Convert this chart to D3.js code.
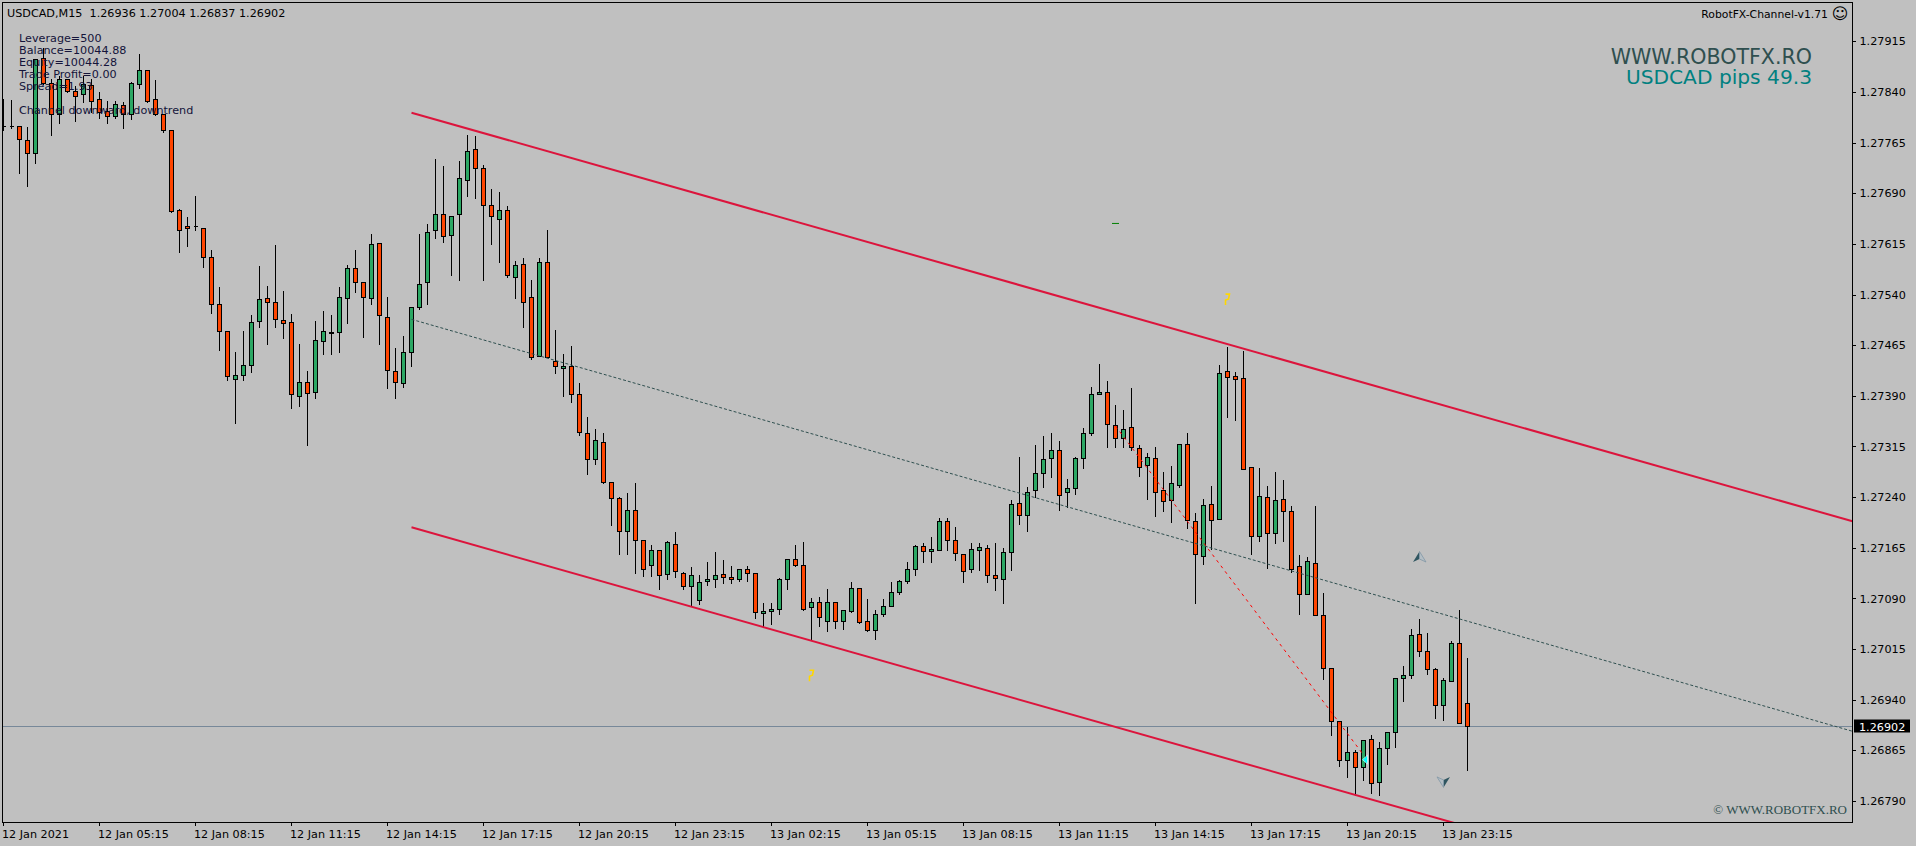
<!DOCTYPE html>
<html>
<head>
  <meta charset="utf-8">
  <style>
    html, body { margin: 0; padding: 0; background: #c0c0c0; overflow: hidden; }
    svg { display: block; }
    text { font-family: "DejaVu Sans", sans-serif; font-size: 11.2px; fill: #000; white-space: pre; }
    .axis text { font-size: 11.2px; fill: #000; }
    .axis path, .axis line { stroke: #000; shape-rendering: crispEdges; }
    .info { fill: #14143a; }
  </style>
</head>
<body>
<script src="https://cdnjs.cloudflare.com/ajax/libs/d3/7.8.5/d3.min.js"></script>
<script>
  // USDCAD M15 candles
  var opens = [
    1.27790,1.27790,1.27791,1.27769,1.27751,1.27891,1.27854,1.27808,1.27860,1.27842,
    1.27837,1.27851,1.27830,1.27813,1.27805,1.27821,1.27808,1.27852,1.27873,1.27830,
    1.27808,1.27784,1.27666,1.27642,1.27642,1.27640,1.27597,1.27526,1.27487,1.27415,
    1.27421,1.27436,1.27501,1.27535,1.27529,1.27503,1.27500,1.27390,1.27411,1.27396,
    1.27472,1.27485,1.27485,1.27535,1.27580,1.27560,1.27535,1.27617,1.27507,1.27427,
    1.27409,1.27455,1.27523,1.27560,1.27636,1.27660,1.27629,1.27660,1.27710,1.27756,
    1.27728,1.27674,1.27652,1.27666,1.27566,1.27586,1.27537,1.27449,1.27589,1.27443,
    1.27432,1.27435,1.27393,1.27335,1.27297,1.27322,1.27263,1.27239,1.27190,1.27221,
    1.27177,1.27140,1.27162,1.27127,1.27171,1.27129,1.27109,1.27088,1.27116,1.27119,
    1.27127,1.27122,1.27119,1.27134,1.27129,1.27069,1.27072,1.27075,1.27119,1.27149,
    1.27140,1.27078,1.27085,1.27058,1.27085,1.27057,1.27072,1.27106,1.27058,1.27044,
    1.27068,1.27080,1.27100,1.27116,1.27134,1.27168,1.27161,1.27162,1.27205,1.27177,
    1.27156,1.27135,1.27162,1.27165,1.27125,1.27119,1.27159,1.27232,1.27214,1.27252,
    1.27276,1.27298,1.27310,1.27248,1.27254,1.27298,1.27335,1.27393,1.27396,1.27347,
    1.27328,1.27344,1.27313,1.27288,1.27298,1.27251,1.27236,1.27258,1.27319,1.27205,
    1.27153,1.27230,1.27209,1.27427,1.27420,1.27417,1.27285,1.27183,1.27241,1.27187,
    1.27238,1.27220,1.27138,1.27097,1.27143,1.27066,1.26987,1.26909,1.26851,1.26864,
    1.26841,1.26882,1.26819,1.26869,1.26893,1.26973,1.26977,1.27038,1.27013,1.26986,
    1.26933,1.26968,1.27024,1.26936
  ];
  var highs = [
    1.27832,1.27830,1.27791,1.27790,1.27890,1.27907,1.27861,1.27866,1.27861,1.27851,
    1.27866,1.27862,1.27842,1.27829,1.27829,1.27827,1.27857,1.27898,1.27873,1.27860,
    1.27809,1.27786,1.27669,1.27657,1.27688,1.27640,1.27608,1.27553,1.27487,1.27457,
    1.27488,1.27512,1.27585,1.27555,1.27616,1.27548,1.27513,1.27469,1.27429,1.27503,
    1.27518,1.27512,1.27553,1.27586,1.27608,1.27560,1.27632,1.27617,1.27539,1.27463,
    1.27481,1.27524,1.27632,1.27647,1.27743,1.27733,1.27658,1.27740,1.27779,1.27777,
    1.27734,1.27698,1.27694,1.27673,1.27592,1.27596,1.27564,1.27596,1.27638,1.27490,
    1.27454,1.27466,1.27411,1.27361,1.27343,1.27337,1.27264,1.27242,1.27248,1.27263,
    1.27177,1.27171,1.27162,1.27177,1.27191,1.27132,1.27139,1.27127,1.27146,1.27161,
    1.27149,1.27140,1.27134,1.27140,1.27129,1.27085,1.27085,1.27122,1.27149,1.27171,
    1.27176,1.27093,1.27094,1.27106,1.27085,1.27075,1.27117,1.27106,1.27091,1.27075,
    1.27091,1.27117,1.27119,1.27146,1.27171,1.27174,1.27183,1.27211,1.27211,1.27198,
    1.27156,1.27174,1.27174,1.27171,1.27174,1.27167,1.27238,1.27302,1.27257,1.27319,
    1.27333,1.27337,1.27325,1.27269,1.27302,1.27344,1.27405,1.27439,1.27414,1.27378,
    1.27371,1.27404,1.27319,1.27308,1.27317,1.27279,1.27288,1.27319,1.27337,1.27218,
    1.27239,1.27259,1.27438,1.27465,1.27428,1.27459,1.27285,1.27285,1.27259,1.27279,
    1.27268,1.27229,1.27157,1.27154,1.27229,1.27100,1.26987,1.26909,1.26902,1.26868,
    1.26882,1.26890,1.26880,1.26893,1.26975,1.26992,1.27047,1.27062,1.27041,1.26989,
    1.26974,1.27029,1.27075,1.27004
  ];
  var lows = [
    1.27784,1.27788,1.27720,1.27702,1.27736,1.27853,1.27777,1.27795,1.27841,1.27798,
    1.27826,1.27811,1.27802,1.27795,1.27802,1.27788,1.27801,1.27846,1.27826,1.27807,
    1.27782,1.27663,1.27603,1.27612,1.27636,1.27581,1.27514,1.27458,1.27414,1.27350,
    1.27414,1.27426,1.27492,1.27468,1.27492,1.27477,1.27373,1.27375,1.27318,1.27387,
    1.27452,1.27453,1.27455,1.27499,1.27544,1.27478,1.27526,1.27468,1.27403,1.27387,
    1.27404,1.27435,1.27520,1.27526,1.27625,1.27619,1.27570,1.27563,1.27686,1.27683,
    1.27563,1.27615,1.27589,1.27566,1.27536,1.27492,1.27446,1.27449,1.27448,1.27424,
    1.27390,1.27381,1.27332,1.27275,1.27290,1.27261,1.27199,1.27156,1.27156,1.27129,
    1.27124,1.27124,1.27105,1.27119,1.27123,1.27104,1.27079,1.27082,1.27111,1.27108,
    1.27114,1.27114,1.27116,1.27116,1.27062,1.27049,1.27053,1.27068,1.27105,1.27138,
    1.27074,1.27029,1.27050,1.27043,1.27047,1.27046,1.27071,1.27054,1.27043,1.27031,
    1.27065,1.27079,1.27098,1.27114,1.27125,1.27145,1.27145,1.27162,1.27163,1.27148,
    1.27115,1.27130,1.27133,1.27115,1.27103,1.27084,1.27133,1.27201,1.27190,1.27241,
    1.27255,1.27270,1.27221,1.27226,1.27246,1.27284,1.27333,1.27393,1.27315,1.27315,
    1.27315,1.27310,1.27272,1.27238,1.27213,1.27220,1.27204,1.27256,1.27195,1.27084,
    1.27141,1.27164,1.27209,1.27360,1.27355,1.27282,1.27157,1.27176,1.27136,1.27173,
    1.27176,1.27130,1.27068,1.27097,1.27066,1.26972,1.26889,1.26843,1.26826,1.26799,
    1.26822,1.26803,1.26800,1.26846,1.26871,1.26939,1.26973,1.27006,1.26979,1.26914,
    1.26911,1.26968,1.26906,1.26837
  ];
  var closes = [
    1.27790,1.27790,1.27771,1.27751,1.27889,1.27854,1.27808,1.27860,1.27842,1.27835,
    1.27852,1.27828,1.27811,1.27805,1.27823,1.27808,1.27854,1.27873,1.27828,1.27808,
    1.27785,1.27665,1.27637,1.27640,1.27642,1.27597,1.27526,1.27486,1.27420,1.27421,
    1.27437,1.27500,1.27534,1.27529,1.27504,1.27498,1.27393,1.27411,1.27395,1.27473,
    1.27486,1.27484,1.27537,1.27580,1.27560,1.27537,1.27615,1.27510,1.27429,1.27411,
    1.27455,1.27523,1.27556,1.27634,1.27660,1.27627,1.27657,1.27713,1.27754,1.27728,
    1.27674,1.27657,1.27666,1.27569,1.27584,1.27529,1.27448,1.27589,1.27448,1.27435,
    1.27435,1.27393,1.27337,1.27297,1.27326,1.27263,1.27239,1.27190,1.27221,1.27177,
    1.27135,1.27162,1.27125,1.27174,1.27132,1.27109,1.27125,1.27115,1.27119,1.27125,
    1.27122,1.27119,1.27134,1.27129,1.27070,1.27072,1.27075,1.27119,1.27149,1.27140,
    1.27075,1.27085,1.27063,1.27085,1.27058,1.27073,1.27106,1.27056,1.27044,1.27067,
    1.27079,1.27100,1.27116,1.27134,1.27168,1.27161,1.27164,1.27206,1.27177,1.27158,
    1.27132,1.27164,1.27167,1.27125,1.27121,1.27159,1.27230,1.27214,1.27248,1.27276,
    1.27297,1.27310,1.27244,1.27254,1.27298,1.27335,1.27393,1.27396,1.27349,1.27329,
    1.27341,1.27315,1.27285,1.27300,1.27248,1.27235,1.27261,1.27319,1.27207,1.27156,
    1.27229,1.27207,1.27424,1.27418,1.27415,1.27282,1.27183,1.27242,1.27187,1.27236,
    1.27220,1.27134,1.27097,1.27146,1.27066,1.26987,1.26909,1.26851,1.26864,1.26841,
    1.26881,1.26817,1.26869,1.26893,1.26973,1.26977,1.27036,1.27013,1.26986,1.26933,
    1.26970,1.27024,1.26906,1.26902
  ];

  var priceTicks = [1.27915,1.27840,1.27765,1.27690,1.27615,1.27540,1.27465,1.27390,
                    1.27315,1.27240,1.27165,1.27090,1.27015,1.26940,1.26865,1.26790];
  var timeTickBars = [0,12,24,36,48,60,72,84,96,108,120,132,144,156,168,180];
  var timeTickLabels = ["12 Jan 2021","12 Jan 05:15","12 Jan 08:15","12 Jan 11:15",
                        "12 Jan 14:15","12 Jan 17:15","12 Jan 20:15","12 Jan 23:15",
                        "13 Jan 02:15","13 Jan 05:15","13 Jan 08:15","13 Jan 11:15",
                        "13 Jan 14:15","13 Jan 17:15","13 Jan 20:15","13 Jan 23:15"];
  var lastPrice = 1.26902;

  // trend lines as [bar, price]
  var channelTop = [[51, 1.27810], [231.125, 1.27205]];
  var channelBottom = [[51, 1.27196], [231.125, 1.26591]];
  var channelMiddle = [[51, 1.27504], [231.125, 1.26894]];
  var zigzag = [[139, 1.27346], [170, 1.26859]];

  var infoLines = ["Leverage=500","Balance=10044.88","Equity=10044.28","Trade Profit=0.00","Spread=1.93","","Channel downward, downtrend"];

  var width = 1916, height = 846;
  var margin = {top: 2, right: 63, bottom: 23, left: 2};

  var x = d3.scaleLinear().domain([0, 183]).range([3.5, 1467.5]);
  var y = d3.scaleLinear().domain([1.26790, 1.27915]).range([801.5, 41.8]);

  function py(v) { return Math.round(y(v)) + 0.5; }

  var svg = d3.select("body").append("svg")
      .attr("width", width)
      .attr("height", height);

  svg.append("rect")
      .attr("width", width)
      .attr("height", height)
      .attr("fill", "#c0c0c0");

  svg.append("clipPath").attr("id", "plot")
    .append("rect")
      .attr("x", margin.left)
      .attr("y", margin.top)
      .attr("width", width - margin.left - margin.right)
      .attr("height", height - margin.top - margin.bottom);

  var plot = svg.append("g").attr("clip-path", "url(#plot)");

  // last price line sits behind the candles
  plot.append("line")
      .attr("x1", margin.left)
      .attr("x2", width - margin.right)
      .attr("y1", py(lastPrice))
      .attr("y2", py(lastPrice))
      .attr("stroke", "#778899")
      .attr("shape-rendering", "crispEdges");

  var bars = d3.range(opens.length);

  plot.selectAll(".wick")
      .data(bars)
    .enter().append("line")
      .attr("class", "wick")
      .attr("x1", function(i) { return x(i); })
      .attr("x2", function(i) { return x(i); })
      .attr("y1", function(i) { return py(highs[i]); })
      .attr("y2", function(i) { return py(lows[i]) + 0.5; })
      .attr("stroke", "#000")
      .attr("shape-rendering", "crispEdges");

  plot.selectAll(".body")
      .data(bars)
    .enter().append("path")
      .attr("class", "body")
      .attr("d", function(i) {
        var top = py(Math.max(opens[i], closes[i]));
        var bot = py(Math.min(opens[i], closes[i]));
        return "M" + (x(i) - 2) + "," + top + "H" + (x(i) + 2) + "V" + bot + "H" + (x(i) - 2) + "Z";
      })
      .attr("fill", function(i) { return closes[i] >= opens[i] ? "#2ca764" : "#ff4500"; })
      .attr("stroke", "#000")
      .attr("shape-rendering", "crispEdges");

  var trend = d3.line()
      .x(function(d) { return x(d[0]); })
      .y(function(d) { return y(d[1]); });

  plot.append("path")
      .attr("d", trend(channelMiddle))
      .attr("fill", "none")
      .attr("stroke", "#2f4f4f")
      .attr("stroke-dasharray", "3,2");

  plot.append("path")
      .attr("d", trend(zigzag))
      .attr("fill", "none")
      .attr("stroke", "#ff0000")
      .attr("stroke-dasharray", "3,4");

  [channelTop, channelBottom].forEach(function(c) {
    plot.append("path")
        .attr("d", trend(c))
        .attr("fill", "none")
        .attr("stroke", "#dc143c")
        .attr("stroke-width", 2);
  });

  // small chart objects: [bar, price]
  var arrowUp = [177, 1.27152], arrowDown = [180, 1.26819], arrowLeft = [170, 1.26852];
  var yellowMarks = [[153, 1.27534], [101, 1.26977]];
  var greenDash = [139, 1.27646];

  function navArrow(p, angle) {
    var g = plot.append("g")
        .attr("transform", "translate(" + x(p[0]) + "," + y(p[1]) + ") rotate(" + angle + ")");
    g.append("path").attr("d", "M0,-5.5L-6.5,5L0,2Z").attr("fill", "#2f5560");
    g.append("path").attr("d", "M0,-5.5L6.5,5L0,2Z")
        .attr("fill", "#b4bec4")
        .attr("stroke", "#8297a6")
        .attr("stroke-width", 0.8);
  }
  navArrow(arrowUp, 0);
  navArrow(arrowDown, 180);

  plot.append("path")
      .attr("transform", "translate(" + x(arrowLeft[0]) + "," + y(arrowLeft[1]) + ")")
      .attr("d", "M-1,0L4,-4.5L4,4.5Z")
      .attr("fill", "#00ffff")
      .attr("stroke", "#fff")
      .attr("stroke-width", 0.6);

  plot.selectAll(".yellow")
      .data(yellowMarks)
    .enter().append("path")
      .attr("class", "yellow")
      .attr("transform", function(d) { return "translate(" + x(d[0]) + "," + y(d[1]) + ")"; })
      .attr("d", "M-2,-5H2L1,0L-2,1V6")
      .attr("fill", "none")
      .attr("stroke", "#ffd700")
      .attr("stroke-width", 1.6);

  plot.append("line")
      .attr("x1", x(greenDash[0]) - 3.5)
      .attr("x2", x(greenDash[0]) + 3.5)
      .attr("y1", y(greenDash[1]))
      .attr("y2", y(greenDash[1]))
      .attr("stroke", "#008000")
      .attr("stroke-width", 1);

  // frame and axes
  svg.append("g")
      .attr("class", "axis")
      .attr("transform", "translate(1852.5,0)")
      .call(d3.axisRight(y)
            .tickValues(priceTicks)
            .tickFormat(function(d) { return d.toFixed(5); })
            .tickSize(3)
            .tickSizeOuter(0)
            .tickPadding(4)
            .offset(0))
      .call(function(g) { g.select(".domain").remove(); });

  svg.append("g")
      .attr("class", "axis")
      .attr("transform", "translate(0,822.5)")
      .call(d3.axisBottom(x)
            .tickValues(timeTickBars)
            .tickFormat(function(d, i) { return timeTickLabels[i]; })
            .tickSize(3)
            .tickSizeOuter(0)
            .tickPadding(5)
            .offset(0))
      .call(function(g) {
        g.select(".domain").remove();
        g.selectAll("text").attr("text-anchor", "start").attr("dx", -1.5);
      });

  svg.append("path")
      .attr("d", "M2.5,822.5V2.5H1852.5V822.5H2.5")
      .attr("fill", "none")
      .attr("stroke", "#000")
      .attr("shape-rendering", "crispEdges");

  // last price tag
  svg.append("rect")
      .attr("x", 1854)
      .attr("y", py(lastPrice) - 7)
      .attr("width", 56)
      .attr("height", 13)
      .attr("fill", "#000");
  svg.append("text")
      .attr("x", 1859)
      .attr("y", py(lastPrice) + 4)
      .style("fill", "#fff")
      .text(lastPrice.toFixed(5));

  // captions
  svg.append("text")
      .attr("x", 7)
      .attr("y", 17)
      .text("USDCAD,M15  1.26936 1.27004 1.26837 1.26902");

  svg.append("text")
      .attr("x", 1828)
      .attr("y", 18)
      .attr("text-anchor", "end")
      .style("font-size", "10.8px")
      .text("RobotFX-Channel-v1.71");
  svg.append("text")
      .attr("x", 1840)
      .attr("y", 19)
      .attr("text-anchor", "middle")
      .style("font-size", "16px")
      .text("\u263A");

  svg.selectAll(".info")
      .data(infoLines)
    .enter().append("text")
      .attr("class", "info")
      .attr("x", 19)
      .attr("y", function(d, i) { return 42 + i * 12; })
      .text(function(d) { return d; });

  svg.append("text")
      .attr("x", 1812)
      .attr("y", 63.5)
      .attr("text-anchor", "end")
      .style("font-size", "20.6px")
      .style("fill", "#2f4f4f")
      .text("WWW.ROBOTFX.RO");
  svg.append("text")
      .attr("x", 1812)
      .attr("y", 84)
      .attr("text-anchor", "end")
      .style("font-size", "20.2px")
      .style("fill", "#008080")
      .text("USDCAD pips 49.3");

  svg.append("text")
      .attr("x", 1847)
      .attr("y", 814)
      .attr("text-anchor", "end")
      .style("font-family", "'Liberation Serif', serif")
      .style("font-size", "13px")
      .style("fill", "#2f4f4f")
      .text("\u00A9 WWW.ROBOTFX.RO");
</script>
</body>
</html>
